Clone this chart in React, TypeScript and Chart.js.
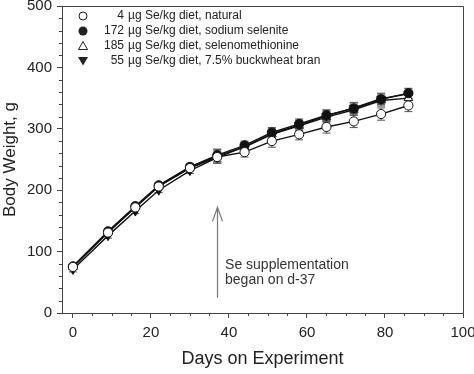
import React, { useEffect, useRef } from "react";
import { Chart, registerables } from "chart.js";

Chart.register(...registerables);

const days = [0, 9, 16, 22, 30, 37, 44, 51, 58, 65, 72, 79, 86];
const naturalVals = [75, 131, 172, 206, 236, 254, 262, 280, 291, 303, 312, 324, 338];
const seleniteVals = [76, 133, 174, 208, 238, 257, 273, 294, 308, 322, 333, 348, 358];
const selenoMetVals = [75, 132, 173, 207, 237, 256, 270, 291, 305, 319, 331, 346, 350];
const buckwheatVals = [71, 126, 166, 200, 232, 253, 271, 292, 306, 321, 334, 349, 357];
const naturalErr = [4, 5, 4, 5, 5, 10, 8, 10, 9, 10, 10, 10, 10];
const seleniteErr = [4, 4, 4, 4, 5, 10, 7, 8, 8, 9, 9, 9, 8];
const selenoMetErr = [4, 4, 4, 4, 5, 10, 7, 8, 8, 9, 9, 9, 8];
const buckwheatErr = [4, 4, 4, 4, 5, 9, 7, 8, 8, 9, 9, 9, 8];
const legendNums = ["4", "172", "185", "55"];
const legendRest = [
  "µg Se/kg diet, natural",
  "µg Se/kg diet, sodium selenite",
  "µg Se/kg diet, selenomethionine",
  "µg Se/kg diet, 7.5% buckwheat bran",
];
const xMajorTicks = [0, 20, 40, 60, 80, 100];
const xMinorTicks = [5, 10, 15, 25, 30, 35, 45, 50, 55, 65, 70, 75, 85, 90, 95];
const yMajorTicks = [0, 100, 200, 300, 400, 500];
const yMinorTicks = [20, 40, 60, 80, 120, 140, 160, 180, 220, 240, 260, 280, 320, 340, 360, 380, 420, 440, 460, 480];
const arrowDay = 37;
const arrowFrom = 25;
const arrowTo = 172;
const noteLines = ["Se supplementation", "began on d-37"];

const FONT = "'Liberation Sans', Arial, sans-serif";
const AXIS_COLOR = "#444";

const errorsByDataset = [naturalErr, seleniteErr, selenoMetErr, buckwheatErr];

const extrasPlugin = {
  id: "extras",
  beforeDatasetsDraw(chart: any) {
    const { ctx, scales } = chart;
    const xs = scales.x;
    const ys = scales.y;
    ctx.save();
    ctx.strokeStyle = "#555";
    ctx.lineWidth = 1;
    chart.data.datasets.forEach((ds: any, i: number) => {
      const errs = errorsByDataset[i];
      ds.data.forEach((pt: any, j: number) => {
        const v = pt.y;
        const px = xs.getPixelForValue(days[j]);
        const top = ys.getPixelForValue(v + errs[j]);
        const bot = ys.getPixelForValue(v - errs[j]);
        ctx.beginPath();
        ctx.moveTo(px, top);
        ctx.lineTo(px, bot);
        ctx.moveTo(px - 4, top);
        ctx.lineTo(px + 4, top);
        ctx.moveTo(px - 4, bot);
        ctx.lineTo(px + 4, bot);
        ctx.stroke();
      });
    });
    ctx.restore();
  },
  afterDraw(chart: any) {
    const { ctx, scales, chartArea } = chart;
    const xs = scales.x;
    const ys = scales.y;
    ctx.save();
    ctx.strokeStyle = AXIS_COLOR;
    ctx.lineWidth = 1;
    ctx.beginPath();
    ctx.moveTo(chartArea.left, chartArea.top + 0.5);
    ctx.lineTo(chartArea.right + 0.5, chartArea.top + 0.5);
    ctx.lineTo(chartArea.right + 0.5, chartArea.bottom);
    ctx.stroke();
    ctx.beginPath();
    xMinorTicks.forEach((v) => {
      const px = Math.round(xs.getPixelForValue(v)) + 0.5;
      ctx.moveTo(px, chartArea.bottom);
      ctx.lineTo(px, chartArea.bottom + 3);
    });
    yMinorTicks.forEach((v) => {
      const py = Math.round(ys.getPixelForValue(v)) + 0.5;
      ctx.moveTo(chartArea.left, py);
      ctx.lineTo(chartArea.left - 3, py);
    });
    ctx.stroke();
    const ax = Math.round(xs.getPixelForValue(arrowDay)) + 0.5;
    const ay1 = ys.getPixelForValue(arrowFrom);
    const ay2 = ys.getPixelForValue(arrowTo);
    ctx.strokeStyle = "#777";
    ctx.lineWidth = 1.2;
    ctx.beginPath();
    ctx.moveTo(ax, ay1);
    ctx.lineTo(ax, ay2);
    ctx.moveTo(ax - 5, ay2 + 14);
    ctx.lineTo(ax, ay2);
    ctx.lineTo(ax + 5, ay2 + 14);
    ctx.stroke();
    ctx.fillStyle = "#333";
    ctx.font = `14px ${FONT}`;
    ctx.textAlign = "left";
    ctx.textBaseline = "middle";
    const tx = xs.getPixelForValue(39);
    ctx.fillText(noteLines[0], tx, ys.getPixelForValue(78));
    ctx.fillText(noteLines[1], tx, ys.getPixelForValue(53));
    const rows = [16, 31, 46, 61];
    ctx.font = `12px ${FONT}`;
    rows.forEach((ry, i) => {
      const mx = 83;
      ctx.strokeStyle = "#222";
      ctx.fillStyle = "#222";
      ctx.lineWidth = 1;
      ctx.beginPath();
      if (i === 0) {
        ctx.arc(mx, ry, 4, 0, Math.PI * 2);
        ctx.stroke();
      } else if (i === 1) {
        ctx.arc(mx, ry, 4.5, 0, Math.PI * 2);
        ctx.fill();
      } else if (i === 2) {
        ctx.moveTo(mx, ry - 4.5);
        ctx.lineTo(mx + 4.5, ry + 3.5);
        ctx.lineTo(mx - 4.5, ry + 3.5);
        ctx.closePath();
        ctx.stroke();
      } else {
        ctx.moveTo(mx, ry + 4.5);
        ctx.lineTo(mx + 5, ry - 4);
        ctx.lineTo(mx - 5, ry - 4);
        ctx.closePath();
        ctx.fill();
      }
      ctx.fillStyle = "#222";
      ctx.textBaseline = "middle";
      ctx.textAlign = "right";
      ctx.fillText(legendNums[i], 124, ry);
      ctx.textAlign = "left";
      ctx.fillText(legendRest[i], 128, ry);
    });
    ctx.restore();
  },
};

export default function App() {
  const ref = useRef<HTMLCanvasElement | null>(null);
  useEffect(() => {
    if (!ref.current) return;
    const mk = (label: string, data: number[], style: string, filled: boolean, rot = 0) => ({
      label,
      data: data.map((v, i) => ({ x: days[i], y: v })),
      borderColor: "#111",
      borderWidth: 1.4,
      pointStyle: style,
      pointRadius: style === "triangle" ? 5 : 4.6,
      pointRotation: rot,
      pointBackgroundColor: filled ? "#111" : "#fff",
      pointBorderColor: "#111",
      pointBorderWidth: 1,
      tension: 0,
      fill: false,
    });
    const chart = new Chart(ref.current, {
      type: "line",
      data: {
        datasets: [
          mk(legendNums[0] + " " + legendRest[0], naturalVals, "circle", false),
          mk(legendNums[1] + " " + legendRest[1], seleniteVals, "circle", true),
          mk(legendNums[2] + " " + legendRest[2], selenoMetVals, "triangle", false),
          mk(legendNums[3] + " " + legendRest[3], buckwheatVals, "triangle", true, 180),
        ],
      },
      options: {
        animation: false,
        responsive: false,
        devicePixelRatio: 1,
        layout: { padding: { top: 5, right: 11, left: 0, bottom: 0 } },
        plugins: { legend: { display: false }, tooltip: { enabled: false } },
        scales: {
          x: {
            type: "linear",
            min: -2.8,
            max: 100,
            afterBuildTicks: (s: any) => {
              s.ticks = xMajorTicks.map((v) => ({ value: v }));
            },
            afterFit: (s: any) => {
              s.height = 61;
              s.paddingLeft = 0;
              s.paddingRight = 0;
            },
            ticks: { font: { family: FONT, size: 15 }, color: "#222", padding: 6, maxRotation: 0 },
            grid: { drawOnChartArea: false, drawTicks: true, tickLength: 5, color: AXIS_COLOR },
            border: { color: AXIS_COLOR, width: 1 },
            title: {
              display: true,
              text: "Days on Experiment",
              font: { family: FONT, size: 18 },
              color: "#222",
              padding: { top: 13 },
            },
          },
          y: {
            type: "linear",
            min: 0,
            max: 500,
            afterBuildTicks: (s: any) => {
              s.ticks = yMajorTicks.map((v) => ({ value: v }));
            },
            afterFit: (s: any) => {
              s.width = 62;
              s.paddingTop = 0;
              s.paddingBottom = 0;
            },
            ticks: { font: { family: FONT, size: 15 }, color: "#222", padding: 5 },
            grid: { drawOnChartArea: false, drawTicks: true, tickLength: 5, color: AXIS_COLOR },
            border: { color: AXIS_COLOR, width: 1 },
            title: {
              display: true,
              text: "Body Weight, g",
              font: { family: FONT, size: 17 },
              color: "#222",
              padding: { top: 0, bottom: 0 },
            },
          },
        },
      },
      plugins: [extrasPlugin],
    } as any);
    return () => chart.destroy();
  }, []);
  return (
    <div style={{ position: "absolute", left: 0, top: 0, width: 474, height: 374, background: "#fff" }}>
      <canvas ref={ref} width={474} height={374} style={{ display: "block" }} />
    </div>
  );
}
